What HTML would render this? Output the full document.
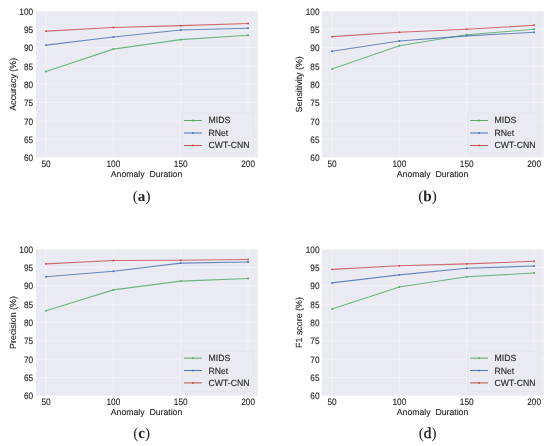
<!DOCTYPE html>
<html><head><meta charset="utf-8"><title>Figure</title>
<style>
html,body{margin:0;padding:0;background:#fff;}
body{width:550px;height:446px;overflow:hidden;}
svg{display:block;text-rendering:geometricPrecision;}
.t{font-family:"Liberation Sans",Arial,sans-serif;font-size:8.6px;fill:#262626;stroke:#262626;stroke-width:0.12px;}
.l{font-size:8.9px;}
.k{font-size:8.6px;}
.x{font-size:8.7px;}
.c{font-family:"Liberation Serif","Times New Roman",serif;font-size:15.2px;fill:#222;}
</style></head><body>
<svg width="550" height="446" viewBox="0 0 550 446">
<rect width="550" height="446" fill="#fff"/>
<g>
<rect x="36.0" y="11.0" width="221.8" height="146.6" fill="#EAEAF2"/>
<line x1="36.0" x2="257.8" y1="157.60" y2="157.60" stroke="#fff" stroke-width="0.7" opacity="0.48"/>
<text transform="translate(33.10,161.15) scale(0.96,1.07)" text-anchor="end" class="t k">60</text>
<line x1="36.0" x2="257.8" y1="139.28" y2="139.28" stroke="#fff" stroke-width="0.7" opacity="0.48"/>
<text transform="translate(33.10,142.83) scale(0.96,1.07)" text-anchor="end" class="t k">65</text>
<line x1="36.0" x2="257.8" y1="120.95" y2="120.95" stroke="#fff" stroke-width="0.7" opacity="0.48"/>
<text transform="translate(33.10,124.50) scale(0.96,1.07)" text-anchor="end" class="t k">70</text>
<line x1="36.0" x2="257.8" y1="102.62" y2="102.62" stroke="#fff" stroke-width="0.7" opacity="0.48"/>
<text transform="translate(33.10,106.17) scale(0.96,1.07)" text-anchor="end" class="t k">75</text>
<line x1="36.0" x2="257.8" y1="84.30" y2="84.30" stroke="#fff" stroke-width="0.7" opacity="0.48"/>
<text transform="translate(33.10,87.85) scale(0.96,1.07)" text-anchor="end" class="t k">80</text>
<line x1="36.0" x2="257.8" y1="65.97" y2="65.97" stroke="#fff" stroke-width="0.7" opacity="0.48"/>
<text transform="translate(33.10,69.52) scale(0.96,1.07)" text-anchor="end" class="t k">85</text>
<line x1="36.0" x2="257.8" y1="47.65" y2="47.65" stroke="#fff" stroke-width="0.7" opacity="0.48"/>
<text transform="translate(33.10,51.20) scale(0.96,1.07)" text-anchor="end" class="t k">90</text>
<line x1="36.0" x2="257.8" y1="29.32" y2="29.32" stroke="#fff" stroke-width="0.7" opacity="0.48"/>
<text transform="translate(33.10,32.88) scale(0.96,1.07)" text-anchor="end" class="t k">95</text>
<line x1="36.0" x2="257.8" y1="11.00" y2="11.00" stroke="#fff" stroke-width="0.7" opacity="0.48"/>
<text transform="translate(33.10,14.55) scale(0.96,1.07)" text-anchor="end" class="t k">100</text>
<line y1="11.0" y2="157.6" x1="46.00" x2="46.00" stroke="#fff" stroke-width="0.7" opacity="0.48"/>
<text transform="translate(46.00,167.20) scale(0.96,1.07)" text-anchor="middle" class="t k">50</text>
<line y1="11.0" y2="157.6" x1="113.37" x2="113.37" stroke="#fff" stroke-width="0.7" opacity="0.48"/>
<text transform="translate(113.37,167.20) scale(0.96,1.07)" text-anchor="middle" class="t k">100</text>
<line y1="11.0" y2="157.6" x1="180.73" x2="180.73" stroke="#fff" stroke-width="0.7" opacity="0.48"/>
<text transform="translate(180.73,167.20) scale(0.96,1.07)" text-anchor="middle" class="t k">150</text>
<line y1="11.0" y2="157.6" x1="248.10" x2="248.10" stroke="#fff" stroke-width="0.7" opacity="0.48"/>
<text transform="translate(248.10,167.20) scale(0.96,1.07)" text-anchor="middle" class="t k">200</text>
<text x="146.50" y="176.50" text-anchor="middle" class="t x" style="white-space:pre" xml:space="preserve">Anomaly  Duration</text>
<text transform="translate(15.70,84.30) rotate(-90)" text-anchor="middle" class="t l">Accuracy (%)</text>
<polyline points="46.00,71.47 113.37,49.12 180.73,39.59 248.10,35.19" fill="none" stroke="#55A868" stroke-width="1.1" stroke-opacity="0.82" stroke-linejoin="round" stroke-linecap="round"/>
<circle cx="46.00" cy="71.47" r="0.95" fill="#55A868"/>
<circle cx="113.37" cy="49.12" r="0.95" fill="#55A868"/>
<circle cx="180.73" cy="39.59" r="0.95" fill="#55A868"/>
<circle cx="248.10" cy="35.19" r="0.95" fill="#55A868"/>
<polyline points="46.00,45.08 113.37,37.02 180.73,30.06 248.10,28.23" fill="none" stroke="#4C72B0" stroke-width="1.1" stroke-opacity="0.82" stroke-linejoin="round" stroke-linecap="round"/>
<circle cx="46.00" cy="45.08" r="0.95" fill="#4C72B0"/>
<circle cx="113.37" cy="37.02" r="0.95" fill="#4C72B0"/>
<circle cx="180.73" cy="30.06" r="0.95" fill="#4C72B0"/>
<circle cx="248.10" cy="28.23" r="0.95" fill="#4C72B0"/>
<polyline points="46.00,31.16 113.37,27.49 180.73,25.66 248.10,23.46" fill="none" stroke="#C44E52" stroke-width="1.1" stroke-opacity="0.82" stroke-linejoin="round" stroke-linecap="round"/>
<circle cx="46.00" cy="31.16" r="0.95" fill="#C44E52"/>
<circle cx="113.37" cy="27.49" r="0.95" fill="#C44E52"/>
<circle cx="180.73" cy="25.66" r="0.95" fill="#C44E52"/>
<circle cx="248.10" cy="23.46" r="0.95" fill="#C44E52"/>
<rect x="181.50" y="113.00" width="72.1" height="40.4" fill="#EAEAF2" stroke="#e1e1eb" stroke-width="0.6"/>
<line x1="184.10" x2="201.90" y1="120.50" y2="120.50" stroke="#55A868" stroke-width="1.0"/>
<circle cx="193.00" cy="120.50" r="0.95" fill="#55A868"/>
<text transform="translate(208.50,123.20) scale(1.01,1.04)" class="t">MIDS</text>
<line x1="184.10" x2="201.90" y1="133.00" y2="133.00" stroke="#4C72B0" stroke-width="1.0"/>
<circle cx="193.00" cy="133.00" r="0.95" fill="#4C72B0"/>
<text transform="translate(208.50,135.70) scale(1.01,1.04)" class="t">RNet</text>
<line x1="184.10" x2="201.90" y1="145.50" y2="145.50" stroke="#C44E52" stroke-width="1.0"/>
<circle cx="193.00" cy="145.50" r="0.95" fill="#C44E52"/>
<text transform="translate(208.50,148.20) scale(1.01,1.04)" class="t">CWT-CNN</text>
<text x="141.60" y="200.80" text-anchor="middle" class="c">(<tspan font-weight="bold">a</tspan>)</text>
</g>
<g>
<rect x="322.0" y="11.0" width="221.8" height="146.6" fill="#EAEAF2"/>
<line x1="322.0" x2="543.8" y1="157.60" y2="157.60" stroke="#fff" stroke-width="0.7" opacity="0.48"/>
<text transform="translate(319.50,161.15) scale(0.96,1.07)" text-anchor="end" class="t k">60</text>
<line x1="322.0" x2="543.8" y1="139.28" y2="139.28" stroke="#fff" stroke-width="0.7" opacity="0.48"/>
<text transform="translate(319.50,142.83) scale(0.96,1.07)" text-anchor="end" class="t k">65</text>
<line x1="322.0" x2="543.8" y1="120.95" y2="120.95" stroke="#fff" stroke-width="0.7" opacity="0.48"/>
<text transform="translate(319.50,124.50) scale(0.96,1.07)" text-anchor="end" class="t k">70</text>
<line x1="322.0" x2="543.8" y1="102.62" y2="102.62" stroke="#fff" stroke-width="0.7" opacity="0.48"/>
<text transform="translate(319.50,106.17) scale(0.96,1.07)" text-anchor="end" class="t k">75</text>
<line x1="322.0" x2="543.8" y1="84.30" y2="84.30" stroke="#fff" stroke-width="0.7" opacity="0.48"/>
<text transform="translate(319.50,87.85) scale(0.96,1.07)" text-anchor="end" class="t k">80</text>
<line x1="322.0" x2="543.8" y1="65.97" y2="65.97" stroke="#fff" stroke-width="0.7" opacity="0.48"/>
<text transform="translate(319.50,69.52) scale(0.96,1.07)" text-anchor="end" class="t k">85</text>
<line x1="322.0" x2="543.8" y1="47.65" y2="47.65" stroke="#fff" stroke-width="0.7" opacity="0.48"/>
<text transform="translate(319.50,51.20) scale(0.96,1.07)" text-anchor="end" class="t k">90</text>
<line x1="322.0" x2="543.8" y1="29.32" y2="29.32" stroke="#fff" stroke-width="0.7" opacity="0.48"/>
<text transform="translate(319.50,32.88) scale(0.96,1.07)" text-anchor="end" class="t k">95</text>
<line x1="322.0" x2="543.8" y1="11.00" y2="11.00" stroke="#fff" stroke-width="0.7" opacity="0.48"/>
<text transform="translate(319.50,14.55) scale(0.96,1.07)" text-anchor="end" class="t k">100</text>
<line y1="11.0" y2="157.6" x1="332.00" x2="332.00" stroke="#fff" stroke-width="0.7" opacity="0.48"/>
<text transform="translate(332.00,167.20) scale(0.96,1.07)" text-anchor="middle" class="t k">50</text>
<line y1="11.0" y2="157.6" x1="399.37" x2="399.37" stroke="#fff" stroke-width="0.7" opacity="0.48"/>
<text transform="translate(399.37,167.20) scale(0.96,1.07)" text-anchor="middle" class="t k">100</text>
<line y1="11.0" y2="157.6" x1="466.73" x2="466.73" stroke="#fff" stroke-width="0.7" opacity="0.48"/>
<text transform="translate(466.73,167.20) scale(0.96,1.07)" text-anchor="middle" class="t k">150</text>
<line y1="11.0" y2="157.6" x1="534.10" x2="534.10" stroke="#fff" stroke-width="0.7" opacity="0.48"/>
<text transform="translate(534.10,167.20) scale(0.96,1.07)" text-anchor="middle" class="t k">200</text>
<text x="432.50" y="176.50" text-anchor="middle" class="t x" style="white-space:pre" xml:space="preserve">Anomaly  Duration</text>
<text transform="translate(302.20,84.30) rotate(-90)" text-anchor="middle" class="t l">Sensitivity (%)</text>
<polyline points="332.00,68.91 399.37,45.82 466.73,34.82 534.10,29.32" fill="none" stroke="#55A868" stroke-width="1.1" stroke-opacity="0.82" stroke-linejoin="round" stroke-linecap="round"/>
<circle cx="332.00" cy="68.91" r="0.95" fill="#55A868"/>
<circle cx="399.37" cy="45.82" r="0.95" fill="#55A868"/>
<circle cx="466.73" cy="34.82" r="0.95" fill="#55A868"/>
<circle cx="534.10" cy="29.32" r="0.95" fill="#55A868"/>
<polyline points="332.00,51.32 399.37,41.05 466.73,35.92 534.10,32.26" fill="none" stroke="#4C72B0" stroke-width="1.1" stroke-opacity="0.82" stroke-linejoin="round" stroke-linecap="round"/>
<circle cx="332.00" cy="51.32" r="0.95" fill="#4C72B0"/>
<circle cx="399.37" cy="41.05" r="0.95" fill="#4C72B0"/>
<circle cx="466.73" cy="35.92" r="0.95" fill="#4C72B0"/>
<circle cx="534.10" cy="32.26" r="0.95" fill="#4C72B0"/>
<polyline points="332.00,36.66 399.37,32.26 466.73,29.32 534.10,25.29" fill="none" stroke="#C44E52" stroke-width="1.1" stroke-opacity="0.82" stroke-linejoin="round" stroke-linecap="round"/>
<circle cx="332.00" cy="36.66" r="0.95" fill="#C44E52"/>
<circle cx="399.37" cy="32.26" r="0.95" fill="#C44E52"/>
<circle cx="466.73" cy="29.32" r="0.95" fill="#C44E52"/>
<circle cx="534.10" cy="25.29" r="0.95" fill="#C44E52"/>
<rect x="467.50" y="113.00" width="72.1" height="40.4" fill="#EAEAF2" stroke="#e1e1eb" stroke-width="0.6"/>
<line x1="470.10" x2="487.90" y1="120.50" y2="120.50" stroke="#55A868" stroke-width="1.0"/>
<circle cx="479.00" cy="120.50" r="0.95" fill="#55A868"/>
<text transform="translate(494.50,123.20) scale(1.01,1.04)" class="t">MIDS</text>
<line x1="470.10" x2="487.90" y1="133.00" y2="133.00" stroke="#4C72B0" stroke-width="1.0"/>
<circle cx="479.00" cy="133.00" r="0.95" fill="#4C72B0"/>
<text transform="translate(494.50,135.70) scale(1.01,1.04)" class="t">RNet</text>
<line x1="470.10" x2="487.90" y1="145.50" y2="145.50" stroke="#C44E52" stroke-width="1.0"/>
<circle cx="479.00" cy="145.50" r="0.95" fill="#C44E52"/>
<text transform="translate(494.50,148.20) scale(1.01,1.04)" class="t">CWT-CNN</text>
<text x="427.60" y="200.80" text-anchor="middle" class="c">(<tspan font-weight="bold">b</tspan>)</text>
</g>
<g>
<rect x="36.0" y="249.2" width="221.8" height="146.6" fill="#EAEAF2"/>
<line x1="36.0" x2="257.8" y1="395.80" y2="395.80" stroke="#fff" stroke-width="0.7" opacity="0.48"/>
<text transform="translate(33.10,399.35) scale(0.96,1.07)" text-anchor="end" class="t k">60</text>
<line x1="36.0" x2="257.8" y1="377.48" y2="377.48" stroke="#fff" stroke-width="0.7" opacity="0.48"/>
<text transform="translate(33.10,381.03) scale(0.96,1.07)" text-anchor="end" class="t k">65</text>
<line x1="36.0" x2="257.8" y1="359.15" y2="359.15" stroke="#fff" stroke-width="0.7" opacity="0.48"/>
<text transform="translate(33.10,362.70) scale(0.96,1.07)" text-anchor="end" class="t k">70</text>
<line x1="36.0" x2="257.8" y1="340.82" y2="340.82" stroke="#fff" stroke-width="0.7" opacity="0.48"/>
<text transform="translate(33.10,344.38) scale(0.96,1.07)" text-anchor="end" class="t k">75</text>
<line x1="36.0" x2="257.8" y1="322.50" y2="322.50" stroke="#fff" stroke-width="0.7" opacity="0.48"/>
<text transform="translate(33.10,326.05) scale(0.96,1.07)" text-anchor="end" class="t k">80</text>
<line x1="36.0" x2="257.8" y1="304.17" y2="304.17" stroke="#fff" stroke-width="0.7" opacity="0.48"/>
<text transform="translate(33.10,307.72) scale(0.96,1.07)" text-anchor="end" class="t k">85</text>
<line x1="36.0" x2="257.8" y1="285.85" y2="285.85" stroke="#fff" stroke-width="0.7" opacity="0.48"/>
<text transform="translate(33.10,289.40) scale(0.96,1.07)" text-anchor="end" class="t k">90</text>
<line x1="36.0" x2="257.8" y1="267.52" y2="267.52" stroke="#fff" stroke-width="0.7" opacity="0.48"/>
<text transform="translate(33.10,271.07) scale(0.96,1.07)" text-anchor="end" class="t k">95</text>
<line x1="36.0" x2="257.8" y1="249.20" y2="249.20" stroke="#fff" stroke-width="0.7" opacity="0.48"/>
<text transform="translate(33.10,252.75) scale(0.96,1.07)" text-anchor="end" class="t k">100</text>
<line y1="249.2" y2="395.79999999999995" x1="46.00" x2="46.00" stroke="#fff" stroke-width="0.7" opacity="0.48"/>
<text transform="translate(46.00,405.40) scale(0.96,1.07)" text-anchor="middle" class="t k">50</text>
<line y1="249.2" y2="395.79999999999995" x1="113.37" x2="113.37" stroke="#fff" stroke-width="0.7" opacity="0.48"/>
<text transform="translate(113.37,405.40) scale(0.96,1.07)" text-anchor="middle" class="t k">100</text>
<line y1="249.2" y2="395.79999999999995" x1="180.73" x2="180.73" stroke="#fff" stroke-width="0.7" opacity="0.48"/>
<text transform="translate(180.73,405.40) scale(0.96,1.07)" text-anchor="middle" class="t k">150</text>
<line y1="249.2" y2="395.79999999999995" x1="248.10" x2="248.10" stroke="#fff" stroke-width="0.7" opacity="0.48"/>
<text transform="translate(248.10,405.40) scale(0.96,1.07)" text-anchor="middle" class="t k">200</text>
<text x="146.50" y="414.70" text-anchor="middle" class="t x" style="white-space:pre" xml:space="preserve">Anomaly  Duration</text>
<text transform="translate(15.70,322.50) rotate(-90)" text-anchor="middle" class="t l">Precision (%)</text>
<polyline points="46.00,310.77 113.37,289.88 180.73,281.09 248.10,278.52" fill="none" stroke="#55A868" stroke-width="1.1" stroke-opacity="0.82" stroke-linejoin="round" stroke-linecap="round"/>
<circle cx="46.00" cy="310.77" r="0.95" fill="#55A868"/>
<circle cx="113.37" cy="289.88" r="0.95" fill="#55A868"/>
<circle cx="180.73" cy="281.09" r="0.95" fill="#55A868"/>
<circle cx="248.10" cy="278.52" r="0.95" fill="#55A868"/>
<polyline points="46.00,276.69 113.37,271.19 180.73,263.13 248.10,262.03" fill="none" stroke="#4C72B0" stroke-width="1.1" stroke-opacity="0.82" stroke-linejoin="round" stroke-linecap="round"/>
<circle cx="46.00" cy="276.69" r="0.95" fill="#4C72B0"/>
<circle cx="113.37" cy="271.19" r="0.95" fill="#4C72B0"/>
<circle cx="180.73" cy="263.13" r="0.95" fill="#4C72B0"/>
<circle cx="248.10" cy="262.03" r="0.95" fill="#4C72B0"/>
<polyline points="46.00,263.86 113.37,260.56 180.73,260.19 248.10,259.46" fill="none" stroke="#C44E52" stroke-width="1.1" stroke-opacity="0.82" stroke-linejoin="round" stroke-linecap="round"/>
<circle cx="46.00" cy="263.86" r="0.95" fill="#C44E52"/>
<circle cx="113.37" cy="260.56" r="0.95" fill="#C44E52"/>
<circle cx="180.73" cy="260.19" r="0.95" fill="#C44E52"/>
<circle cx="248.10" cy="259.46" r="0.95" fill="#C44E52"/>
<rect x="181.50" y="351.20" width="72.1" height="40.4" fill="#EAEAF2" stroke="#e1e1eb" stroke-width="0.6"/>
<line x1="184.10" x2="201.90" y1="358.10" y2="358.10" stroke="#55A868" stroke-width="1.0"/>
<circle cx="193.00" cy="358.10" r="0.95" fill="#55A868"/>
<text transform="translate(208.50,361.40) scale(1.01,1.04)" class="t">MIDS</text>
<line x1="184.10" x2="201.90" y1="370.50" y2="370.50" stroke="#4C72B0" stroke-width="1.0"/>
<circle cx="193.00" cy="370.50" r="0.95" fill="#4C72B0"/>
<text transform="translate(208.50,373.90) scale(1.01,1.04)" class="t">RNet</text>
<line x1="184.10" x2="201.90" y1="382.90" y2="382.90" stroke="#C44E52" stroke-width="1.0"/>
<circle cx="193.00" cy="382.90" r="0.95" fill="#C44E52"/>
<text transform="translate(208.50,386.40) scale(1.01,1.04)" class="t">CWT-CNN</text>
<text x="141.60" y="438.40" text-anchor="middle" class="c">(<tspan font-weight="bold">c</tspan>)</text>
</g>
<g>
<rect x="322.0" y="249.2" width="221.8" height="146.6" fill="#EAEAF2"/>
<line x1="322.0" x2="543.8" y1="395.80" y2="395.80" stroke="#fff" stroke-width="0.7" opacity="0.48"/>
<text transform="translate(319.50,399.35) scale(0.96,1.07)" text-anchor="end" class="t k">60</text>
<line x1="322.0" x2="543.8" y1="377.48" y2="377.48" stroke="#fff" stroke-width="0.7" opacity="0.48"/>
<text transform="translate(319.50,381.03) scale(0.96,1.07)" text-anchor="end" class="t k">65</text>
<line x1="322.0" x2="543.8" y1="359.15" y2="359.15" stroke="#fff" stroke-width="0.7" opacity="0.48"/>
<text transform="translate(319.50,362.70) scale(0.96,1.07)" text-anchor="end" class="t k">70</text>
<line x1="322.0" x2="543.8" y1="340.82" y2="340.82" stroke="#fff" stroke-width="0.7" opacity="0.48"/>
<text transform="translate(319.50,344.38) scale(0.96,1.07)" text-anchor="end" class="t k">75</text>
<line x1="322.0" x2="543.8" y1="322.50" y2="322.50" stroke="#fff" stroke-width="0.7" opacity="0.48"/>
<text transform="translate(319.50,326.05) scale(0.96,1.07)" text-anchor="end" class="t k">80</text>
<line x1="322.0" x2="543.8" y1="304.17" y2="304.17" stroke="#fff" stroke-width="0.7" opacity="0.48"/>
<text transform="translate(319.50,307.72) scale(0.96,1.07)" text-anchor="end" class="t k">85</text>
<line x1="322.0" x2="543.8" y1="285.85" y2="285.85" stroke="#fff" stroke-width="0.7" opacity="0.48"/>
<text transform="translate(319.50,289.40) scale(0.96,1.07)" text-anchor="end" class="t k">90</text>
<line x1="322.0" x2="543.8" y1="267.52" y2="267.52" stroke="#fff" stroke-width="0.7" opacity="0.48"/>
<text transform="translate(319.50,271.07) scale(0.96,1.07)" text-anchor="end" class="t k">95</text>
<line x1="322.0" x2="543.8" y1="249.20" y2="249.20" stroke="#fff" stroke-width="0.7" opacity="0.48"/>
<text transform="translate(319.50,252.75) scale(0.96,1.07)" text-anchor="end" class="t k">100</text>
<line y1="249.2" y2="395.79999999999995" x1="332.00" x2="332.00" stroke="#fff" stroke-width="0.7" opacity="0.48"/>
<text transform="translate(332.00,405.40) scale(0.96,1.07)" text-anchor="middle" class="t k">50</text>
<line y1="249.2" y2="395.79999999999995" x1="399.37" x2="399.37" stroke="#fff" stroke-width="0.7" opacity="0.48"/>
<text transform="translate(399.37,405.40) scale(0.96,1.07)" text-anchor="middle" class="t k">100</text>
<line y1="249.2" y2="395.79999999999995" x1="466.73" x2="466.73" stroke="#fff" stroke-width="0.7" opacity="0.48"/>
<text transform="translate(466.73,405.40) scale(0.96,1.07)" text-anchor="middle" class="t k">150</text>
<line y1="249.2" y2="395.79999999999995" x1="534.10" x2="534.10" stroke="#fff" stroke-width="0.7" opacity="0.48"/>
<text transform="translate(534.10,405.40) scale(0.96,1.07)" text-anchor="middle" class="t k">200</text>
<text x="432.50" y="414.70" text-anchor="middle" class="t x" style="white-space:pre" xml:space="preserve">Anomaly  Duration</text>
<text transform="translate(302.20,322.50) rotate(-90)" text-anchor="middle" class="t l">F1 score (%)</text>
<polyline points="332.00,308.94 399.37,286.95 466.73,276.69 534.10,273.02" fill="none" stroke="#55A868" stroke-width="1.1" stroke-opacity="0.82" stroke-linejoin="round" stroke-linecap="round"/>
<circle cx="332.00" cy="308.94" r="0.95" fill="#55A868"/>
<circle cx="399.37" cy="286.95" r="0.95" fill="#55A868"/>
<circle cx="466.73" cy="276.69" r="0.95" fill="#55A868"/>
<circle cx="534.10" cy="273.02" r="0.95" fill="#55A868"/>
<polyline points="332.00,282.92 399.37,274.85 466.73,268.26 534.10,266.06" fill="none" stroke="#4C72B0" stroke-width="1.1" stroke-opacity="0.82" stroke-linejoin="round" stroke-linecap="round"/>
<circle cx="332.00" cy="282.92" r="0.95" fill="#4C72B0"/>
<circle cx="399.37" cy="274.85" r="0.95" fill="#4C72B0"/>
<circle cx="466.73" cy="268.26" r="0.95" fill="#4C72B0"/>
<circle cx="534.10" cy="266.06" r="0.95" fill="#4C72B0"/>
<polyline points="332.00,269.36 399.37,265.69 466.73,263.86 534.10,261.29" fill="none" stroke="#C44E52" stroke-width="1.1" stroke-opacity="0.82" stroke-linejoin="round" stroke-linecap="round"/>
<circle cx="332.00" cy="269.36" r="0.95" fill="#C44E52"/>
<circle cx="399.37" cy="265.69" r="0.95" fill="#C44E52"/>
<circle cx="466.73" cy="263.86" r="0.95" fill="#C44E52"/>
<circle cx="534.10" cy="261.29" r="0.95" fill="#C44E52"/>
<rect x="467.50" y="351.20" width="72.1" height="40.4" fill="#EAEAF2" stroke="#e1e1eb" stroke-width="0.6"/>
<line x1="470.10" x2="487.90" y1="358.10" y2="358.10" stroke="#55A868" stroke-width="1.0"/>
<circle cx="479.00" cy="358.10" r="0.95" fill="#55A868"/>
<text transform="translate(494.50,361.40) scale(1.01,1.04)" class="t">MIDS</text>
<line x1="470.10" x2="487.90" y1="370.50" y2="370.50" stroke="#4C72B0" stroke-width="1.0"/>
<circle cx="479.00" cy="370.50" r="0.95" fill="#4C72B0"/>
<text transform="translate(494.50,373.90) scale(1.01,1.04)" class="t">RNet</text>
<line x1="470.10" x2="487.90" y1="382.90" y2="382.90" stroke="#C44E52" stroke-width="1.0"/>
<circle cx="479.00" cy="382.90" r="0.95" fill="#C44E52"/>
<text transform="translate(494.50,386.40) scale(1.01,1.04)" class="t">CWT-CNN</text>
<text x="427.60" y="438.40" text-anchor="middle" class="c">(<tspan font-weight="normal" stroke="#222" stroke-width="0.4">d</tspan>)</text>
</g>
</svg>
</body></html>
